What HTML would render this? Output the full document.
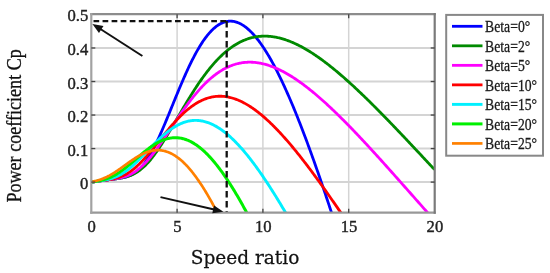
<!DOCTYPE html>
<html><head><meta charset="utf-8"><style>
html,body{margin:0;padding:0;background:#fff;}
svg{display:block;}
text{font-variant-ligatures:none;font-feature-settings:"liga" 0;}
.tk text{font-family:"Liberation Serif",serif;font-size:16.6px;fill:#222;stroke:#222;stroke-width:0.4px;}
.lg text{font-family:"Liberation Serif",serif;font-size:16.2px;fill:#1a1a1a;stroke:#1a1a1a;stroke-width:0.3px;}
</style></head><body>
<svg width="550" height="273" viewBox="0 0 550 273">
<defs><clipPath id="ax"><rect x="91.3" y="14.2" width="343.40" height="198.50"/></clipPath>

</defs>
<rect width="550" height="273" fill="#fff"/>
<g>
<g stroke="#d4d4d4" stroke-width="2"><line x1="177.10" y1="14.2" x2="177.10" y2="212.7" stroke-width="1.5"/><line x1="262.90" y1="14.2" x2="262.90" y2="212.7" stroke-width="1.5"/><line x1="348.70" y1="14.2" x2="348.70" y2="212.7" stroke-width="1.5"/><line x1="91.3" y1="182.10" x2="434.7" y2="182.10"/><line x1="91.3" y1="148.57" x2="434.7" y2="148.57"/><line x1="91.3" y1="115.04" x2="434.7" y2="115.04"/><line x1="91.3" y1="81.51" x2="434.7" y2="81.51"/><line x1="91.3" y1="47.98" x2="434.7" y2="47.98"/></g>
<g clip-path="url(#ax)"><path d="M91.30,182.10 L92.16,181.99 L93.02,181.87 L93.87,181.76 L94.73,181.64 L95.59,181.53 L96.45,181.42 L97.31,181.30 L98.16,181.19 L99.02,181.07 L99.88,180.96 L100.74,180.85 L101.60,180.73 L102.45,180.62 L103.31,180.50 L104.17,180.39 L105.03,180.28 L105.89,180.16 L106.74,180.05 L107.60,179.93 L108.46,179.82 L109.32,179.71 L110.18,179.59 L111.03,179.48 L111.89,179.36 L112.75,179.25 L113.61,179.13 L114.47,179.02 L115.32,178.90 L116.18,178.78 L117.04,178.66 L117.90,178.53 L118.76,178.41 L119.61,178.27 L120.47,178.13 L121.33,177.98 L122.19,177.82 L123.05,177.65 L123.90,177.47 L124.76,177.27 L125.62,177.05 L126.48,176.81 L127.34,176.55 L128.19,176.27 L129.05,175.95 L129.91,175.61 L130.77,175.23 L131.63,174.82 L132.48,174.38 L133.34,173.89 L134.20,173.36 L135.06,172.79 L135.92,172.17 L136.77,171.51 L137.63,170.80 L138.49,170.04 L139.35,169.24 L140.21,168.38 L141.06,167.47 L141.92,166.50 L142.78,165.49 L143.64,164.42 L144.50,163.30 L145.35,162.13 L146.21,160.90 L147.07,159.63 L147.93,158.30 L148.79,156.93 L149.64,155.50 L150.50,154.03 L151.36,152.51 L152.22,150.95 L153.08,149.34 L153.93,147.69 L154.79,146.00 L155.65,144.27 L156.51,142.51 L157.37,140.71 L158.22,138.87 L159.08,137.00 L159.94,135.11 L160.80,133.18 L161.66,131.23 L162.51,129.26 L163.37,127.26 L164.23,125.25 L165.09,123.21 L165.95,121.16 L166.80,119.10 L167.66,117.03 L168.52,114.94 L169.38,112.85 L170.24,110.75 L171.09,108.64 L171.95,106.54 L172.81,104.43 L173.67,102.33 L174.53,100.23 L175.38,98.13 L176.24,96.04 L177.10,93.96 L177.96,91.88 L178.82,89.82 L179.67,87.77 L180.53,85.74 L181.39,83.72 L182.25,81.72 L183.11,79.73 L183.96,77.77 L184.82,75.82 L185.68,73.90 L186.54,72.00 L187.40,70.13 L188.25,68.28 L189.11,66.46 L189.97,64.67 L190.83,62.90 L191.69,61.16 L192.54,59.46 L193.40,57.78 L194.26,56.14 L195.12,54.52 L195.98,52.95 L196.83,51.40 L197.69,49.89 L198.55,48.42 L199.41,46.98 L200.27,45.57 L201.12,44.20 L201.98,42.87 L202.84,41.58 L203.70,40.33 L204.56,39.11 L205.41,37.93 L206.27,36.79 L207.13,35.69 L207.99,34.63 L208.85,33.61 L209.70,32.63 L210.56,31.69 L211.42,30.79 L212.28,29.92 L213.14,29.10 L213.99,28.32 L214.85,27.58 L215.71,26.88 L216.57,26.22 L217.43,25.60 L218.28,25.03 L219.14,24.49 L220.00,23.99 L220.86,23.54 L221.72,23.12 L222.57,22.74 L223.43,22.41 L224.29,22.11 L225.15,21.86 L226.01,21.64 L226.86,21.46 L227.72,21.33 L228.58,21.23 L229.44,21.17 L230.30,21.15 L231.15,21.17 L232.01,21.23 L232.87,21.33 L233.73,21.46 L234.59,21.63 L235.44,21.84 L236.30,22.09 L237.16,22.37 L238.02,22.69 L238.88,23.05 L239.73,23.44 L240.59,23.87 L241.45,24.34 L242.31,24.84 L243.17,25.38 L244.02,25.95 L244.88,26.55 L245.74,27.19 L246.60,27.87 L247.46,28.58 L248.31,29.32 L249.17,30.09 L250.03,30.90 L250.89,31.74 L251.75,32.61 L252.60,33.51 L253.46,34.45 L254.32,35.41 L255.18,36.41 L256.04,37.44 L256.89,38.50 L257.75,39.58 L258.61,40.70 L259.47,41.85 L260.33,43.02 L261.18,44.23 L262.04,45.46 L262.90,46.72 L263.76,48.01 L264.62,49.33 L265.47,50.67 L266.33,52.04 L267.19,53.44 L268.05,54.86 L268.91,56.30 L269.76,57.78 L270.62,59.28 L271.48,60.80 L272.34,62.35 L273.20,63.92 L274.05,65.52 L274.91,67.14 L275.77,68.78 L276.63,70.44 L277.49,72.13 L278.34,73.84 L279.20,75.58 L280.06,77.33 L280.92,79.11 L281.78,80.91 L282.63,82.73 L283.49,84.57 L284.35,86.43 L285.21,88.31 L286.07,90.21 L286.92,92.12 L287.78,94.06 L288.64,96.02 L289.50,98.00 L290.36,99.99 L291.21,102.01 L292.07,104.04 L292.93,106.08 L293.79,108.15 L294.65,110.23 L295.50,112.33 L296.36,114.45 L297.22,116.58 L298.08,118.73 L298.94,120.90 L299.79,123.08 L300.65,125.27 L301.51,127.48 L302.37,129.71 L303.23,131.95 L304.08,134.21 L304.94,136.48 L305.80,138.76 L306.66,141.06 L307.52,143.37 L308.37,145.69 L309.23,148.03 L310.09,150.38 L310.95,152.74 L311.81,155.11 L312.66,157.50 L313.52,159.90 L314.38,162.31 L315.24,164.73 L316.10,167.17 L316.95,169.61 L317.81,172.07 L318.67,174.54 L319.53,177.01 L320.39,179.50 L321.24,182.00 L322.10,184.51 L322.96,187.03 L323.82,189.55 L324.68,192.09 L325.53,194.64 L326.39,197.19 L327.25,199.76 L328.11,202.33 L328.97,204.91 L329.82,207.50 L330.68,210.10 L331.54,212.71 L332.40,215.32 L333.26,217.95 L334.11,220.58 L334.97,223.22 L335.83,225.86 L336.69,228.51 L337.55,231.17 L338.40,233.84" stroke="#0000ff" stroke-width="2.8" fill="none" stroke-linejoin="round"/><path d="M91.30,182.10 L92.16,181.99 L93.02,181.87 L93.87,181.76 L94.73,181.64 L95.59,181.53 L96.45,181.42 L97.31,181.30 L98.16,181.19 L99.02,181.07 L99.88,180.96 L100.74,180.85 L101.60,180.73 L102.45,180.62 L103.31,180.50 L104.17,180.39 L105.03,180.28 L105.89,180.16 L106.74,180.05 L107.60,179.93 L108.46,179.82 L109.32,179.71 L110.18,179.59 L111.03,179.48 L111.89,179.36 L112.75,179.25 L113.61,179.13 L114.47,179.01 L115.32,178.89 L116.18,178.77 L117.04,178.64 L117.90,178.51 L118.76,178.38 L119.61,178.24 L120.47,178.09 L121.33,177.94 L122.19,177.77 L123.05,177.60 L123.90,177.42 L124.76,177.22 L125.62,177.00 L126.48,176.78 L127.34,176.53 L128.19,176.26 L129.05,175.98 L129.91,175.67 L130.77,175.34 L131.63,174.99 L132.48,174.61 L133.34,174.21 L134.20,173.78 L135.06,173.32 L135.92,172.83 L136.77,172.31 L137.63,171.76 L138.49,171.18 L139.35,170.57 L140.21,169.93 L141.06,169.25 L141.92,168.54 L142.78,167.80 L143.64,167.03 L144.50,166.23 L145.35,165.39 L146.21,164.53 L147.07,163.63 L147.93,162.70 L148.79,161.74 L149.64,160.75 L150.50,159.73 L151.36,158.68 L152.22,157.61 L153.08,156.50 L153.93,155.38 L154.79,154.22 L155.65,153.04 L156.51,151.84 L157.37,150.62 L158.22,149.37 L159.08,148.10 L159.94,146.82 L160.80,145.51 L161.66,144.19 L162.51,142.85 L163.37,141.49 L164.23,140.12 L165.09,138.74 L165.95,137.35 L166.80,135.94 L167.66,134.52 L168.52,133.09 L169.38,131.65 L170.24,130.21 L171.09,128.76 L171.95,127.30 L172.81,125.84 L173.67,124.38 L174.53,122.91 L175.38,121.44 L176.24,119.97 L177.10,118.49 L177.96,117.02 L178.82,115.55 L179.67,114.08 L180.53,112.62 L181.39,111.15 L182.25,109.70 L183.11,108.24 L183.96,106.80 L184.82,105.35 L185.68,103.92 L186.54,102.49 L187.40,101.07 L188.25,99.66 L189.11,98.26 L189.97,96.87 L190.83,95.49 L191.69,94.12 L192.54,92.76 L193.40,91.41 L194.26,90.07 L195.12,88.75 L195.98,87.44 L196.83,86.14 L197.69,84.86 L198.55,83.58 L199.41,82.33 L200.27,81.09 L201.12,79.86 L201.98,78.65 L202.84,77.45 L203.70,76.27 L204.56,75.11 L205.41,73.96 L206.27,72.83 L207.13,71.71 L207.99,70.61 L208.85,69.53 L209.70,68.46 L210.56,67.41 L211.42,66.38 L212.28,65.37 L213.14,64.37 L213.99,63.39 L214.85,62.43 L215.71,61.49 L216.57,60.56 L217.43,59.65 L218.28,58.76 L219.14,57.89 L220.00,57.03 L220.86,56.19 L221.72,55.38 L222.57,54.57 L223.43,53.79 L224.29,53.03 L225.15,52.28 L226.01,51.55 L226.86,50.84 L227.72,50.15 L228.58,49.47 L229.44,48.81 L230.30,48.17 L231.15,47.55 L232.01,46.94 L232.87,46.36 L233.73,45.79 L234.59,45.23 L235.44,44.70 L236.30,44.18 L237.16,43.68 L238.02,43.20 L238.88,42.73 L239.73,42.28 L240.59,41.85 L241.45,41.43 L242.31,41.03 L243.17,40.65 L244.02,40.29 L244.88,39.94 L245.74,39.60 L246.60,39.28 L247.46,38.98 L248.31,38.70 L249.17,38.43 L250.03,38.17 L250.89,37.93 L251.75,37.71 L252.60,37.50 L253.46,37.31 L254.32,37.13 L255.18,36.97 L256.04,36.82 L256.89,36.69 L257.75,36.57 L258.61,36.47 L259.47,36.38 L260.33,36.30 L261.18,36.24 L262.04,36.19 L262.90,36.16 L263.76,36.14 L264.62,36.13 L265.47,36.14 L266.33,36.15 L267.19,36.19 L268.05,36.23 L268.91,36.29 L269.76,36.36 L270.62,36.45 L271.48,36.54 L272.34,36.65 L273.20,36.77 L274.05,36.91 L274.91,37.05 L275.77,37.21 L276.63,37.38 L277.49,37.56 L278.34,37.75 L279.20,37.95 L280.06,38.17 L280.92,38.39 L281.78,38.63 L282.63,38.88 L283.49,39.13 L284.35,39.40 L285.21,39.68 L286.07,39.97 L286.92,40.27 L287.78,40.58 L288.64,40.90 L289.50,41.23 L290.36,41.57 L291.21,41.92 L292.07,42.28 L292.93,42.64 L293.79,43.02 L294.65,43.41 L295.50,43.80 L296.36,44.21 L297.22,44.62 L298.08,45.04 L298.94,45.47 L299.79,45.91 L300.65,46.36 L301.51,46.82 L302.37,47.28 L303.23,47.75 L304.08,48.23 L304.94,48.72 L305.80,49.22 L306.66,49.72 L307.52,50.23 L308.37,50.75 L309.23,51.27 L310.09,51.81 L310.95,52.35 L311.81,52.89 L312.66,53.45 L313.52,54.01 L314.38,54.58 L315.24,55.15 L316.10,55.73 L316.95,56.32 L317.81,56.92 L318.67,57.52 L319.53,58.12 L320.39,58.74 L321.24,59.35 L322.10,59.98 L322.96,60.61 L323.82,61.25 L324.68,61.89 L325.53,62.54 L326.39,63.19 L327.25,63.85 L328.11,64.52 L328.97,65.19 L329.82,65.86 L330.68,66.54 L331.54,67.23 L332.40,67.92 L333.26,68.61 L334.11,69.31 L334.97,70.02 L335.83,70.73 L336.69,71.44 L337.55,72.16 L338.40,72.88 L339.26,73.61 L340.12,74.34 L340.98,75.08 L341.84,75.82 L342.69,76.56 L343.55,77.31 L344.41,78.07 L345.27,78.82 L346.13,79.58 L346.98,80.35 L347.84,81.12 L348.70,81.89 L349.56,82.66 L350.42,83.44 L351.27,84.23 L352.13,85.01 L352.99,85.80 L353.85,86.59 L354.71,87.39 L355.56,88.19 L356.42,88.99 L357.28,89.80 L358.14,90.61 L359.00,91.42 L359.85,92.23 L360.71,93.05 L361.57,93.87 L362.43,94.69 L363.29,95.52 L364.14,96.35 L365.00,97.18 L365.86,98.01 L366.72,98.85 L367.58,99.69 L368.43,100.53 L369.29,101.37 L370.15,102.22 L371.01,103.07 L371.87,103.92 L372.72,104.77 L373.58,105.63 L374.44,106.48 L375.30,107.34 L376.16,108.20 L377.01,109.07 L377.87,109.93 L378.73,110.80 L379.59,111.67 L380.45,112.54 L381.30,113.41 L382.16,114.28 L383.02,115.16 L383.88,116.04 L384.74,116.91 L385.59,117.79 L386.45,118.68 L387.31,119.56 L388.17,120.45 L389.03,121.33 L389.88,122.22 L390.74,123.11 L391.60,124.00 L392.46,124.89 L393.32,125.78 L394.17,126.68 L395.03,127.57 L395.89,128.47 L396.75,129.37 L397.61,130.27 L398.46,131.17 L399.32,132.07 L400.18,132.97 L401.04,133.87 L401.90,134.77 L402.75,135.68 L403.61,136.58 L404.47,137.49 L405.33,138.40 L406.19,139.31 L407.04,140.21 L407.90,141.12 L408.76,142.03 L409.62,142.94 L410.48,143.86 L411.33,144.77 L412.19,145.68 L413.05,146.59 L413.91,147.51 L414.77,148.42 L415.62,149.34 L416.48,150.25 L417.34,151.17 L418.20,152.08 L419.06,153.00 L419.91,153.92 L420.77,154.83 L421.63,155.75 L422.49,156.67 L423.35,157.59 L424.20,158.50 L425.06,159.42 L425.92,160.34 L426.78,161.26 L427.64,162.18 L428.49,163.10 L429.35,164.02 L430.21,164.94 L431.07,165.86 L431.93,166.78 L432.78,167.70 L433.64,168.62 L434.50,169.54" stroke="#008a00" stroke-width="2.8" fill="none" stroke-linejoin="round"/><path d="M91.30,182.10 L92.16,181.99 L93.02,181.87 L93.87,181.76 L94.73,181.64 L95.59,181.53 L96.45,181.42 L97.31,181.30 L98.16,181.19 L99.02,181.07 L99.88,180.96 L100.74,180.85 L101.60,180.73 L102.45,180.62 L103.31,180.50 L104.17,180.39 L105.03,180.28 L105.89,180.16 L106.74,180.05 L107.60,179.93 L108.46,179.82 L109.32,179.70 L110.18,179.58 L111.03,179.46 L111.89,179.34 L112.75,179.22 L113.61,179.09 L114.47,178.96 L115.32,178.82 L116.18,178.68 L117.04,178.53 L117.90,178.37 L118.76,178.21 L119.61,178.03 L120.47,177.84 L121.33,177.64 L122.19,177.43 L123.05,177.19 L123.90,176.95 L124.76,176.68 L125.62,176.40 L126.48,176.09 L127.34,175.77 L128.19,175.42 L129.05,175.05 L129.91,174.65 L130.77,174.23 L131.63,173.78 L132.48,173.31 L133.34,172.81 L134.20,172.28 L135.06,171.72 L135.92,171.14 L136.77,170.52 L137.63,169.88 L138.49,169.21 L139.35,168.51 L140.21,167.79 L141.06,167.03 L141.92,166.25 L142.78,165.44 L143.64,164.60 L144.50,163.73 L145.35,162.84 L146.21,161.93 L147.07,160.99 L147.93,160.02 L148.79,159.03 L149.64,158.02 L150.50,156.99 L151.36,155.94 L152.22,154.86 L153.08,153.77 L153.93,152.66 L154.79,151.53 L155.65,150.38 L156.51,149.22 L157.37,148.05 L158.22,146.86 L159.08,145.65 L159.94,144.44 L160.80,143.21 L161.66,141.98 L162.51,140.74 L163.37,139.48 L164.23,138.23 L165.09,136.96 L165.95,135.69 L166.80,134.42 L167.66,133.14 L168.52,131.86 L169.38,130.57 L170.24,129.29 L171.09,128.00 L171.95,126.72 L172.81,125.44 L173.67,124.16 L174.53,122.88 L175.38,121.61 L176.24,120.34 L177.10,119.07 L177.96,117.81 L178.82,116.56 L179.67,115.31 L180.53,114.07 L181.39,112.84 L182.25,111.62 L183.11,110.41 L183.96,109.20 L184.82,108.01 L185.68,106.82 L186.54,105.65 L187.40,104.49 L188.25,103.34 L189.11,102.20 L189.97,101.07 L190.83,99.96 L191.69,98.86 L192.54,97.78 L193.40,96.70 L194.26,95.65 L195.12,94.60 L195.98,93.57 L196.83,92.56 L197.69,91.56 L198.55,90.58 L199.41,89.61 L200.27,88.66 L201.12,87.72 L201.98,86.81 L202.84,85.90 L203.70,85.02 L204.56,84.14 L205.41,83.29 L206.27,82.45 L207.13,81.64 L207.99,80.83 L208.85,80.05 L209.70,79.28 L210.56,78.53 L211.42,77.79 L212.28,77.08 L213.14,76.38 L213.99,75.69 L214.85,75.03 L215.71,74.38 L216.57,73.75 L217.43,73.14 L218.28,72.54 L219.14,71.97 L220.00,71.41 L220.86,70.86 L221.72,70.34 L222.57,69.83 L223.43,69.34 L224.29,68.86 L225.15,68.41 L226.01,67.97 L226.86,67.54 L227.72,67.14 L228.58,66.75 L229.44,66.37 L230.30,66.02 L231.15,65.68 L232.01,65.35 L232.87,65.05 L233.73,64.76 L234.59,64.48 L235.44,64.22 L236.30,63.98 L237.16,63.75 L238.02,63.54 L238.88,63.35 L239.73,63.17 L240.59,63.01 L241.45,62.86 L242.31,62.72 L243.17,62.61 L244.02,62.50 L244.88,62.42 L245.74,62.34 L246.60,62.28 L247.46,62.24 L248.31,62.21 L249.17,62.19 L250.03,62.19 L250.89,62.20 L251.75,62.23 L252.60,62.27 L253.46,62.33 L254.32,62.39 L255.18,62.47 L256.04,62.57 L256.89,62.67 L257.75,62.79 L258.61,62.93 L259.47,63.07 L260.33,63.23 L261.18,63.40 L262.04,63.59 L262.90,63.78 L263.76,63.99 L264.62,64.21 L265.47,64.44 L266.33,64.68 L267.19,64.94 L268.05,65.20 L268.91,65.48 L269.76,65.77 L270.62,66.07 L271.48,66.38 L272.34,66.70 L273.20,67.03 L274.05,67.37 L274.91,67.73 L275.77,68.09 L276.63,68.47 L277.49,68.85 L278.34,69.24 L279.20,69.65 L280.06,70.06 L280.92,70.48 L281.78,70.91 L282.63,71.36 L283.49,71.81 L284.35,72.27 L285.21,72.74 L286.07,73.22 L286.92,73.70 L287.78,74.20 L288.64,74.70 L289.50,75.21 L290.36,75.74 L291.21,76.26 L292.07,76.80 L292.93,77.35 L293.79,77.90 L294.65,78.46 L295.50,79.03 L296.36,79.61 L297.22,80.19 L298.08,80.78 L298.94,81.38 L299.79,81.99 L300.65,82.60 L301.51,83.22 L302.37,83.85 L303.23,84.48 L304.08,85.12 L304.94,85.77 L305.80,86.42 L306.66,87.08 L307.52,87.75 L308.37,88.42 L309.23,89.10 L310.09,89.78 L310.95,90.47 L311.81,91.17 L312.66,91.87 L313.52,92.58 L314.38,93.29 L315.24,94.01 L316.10,94.74 L316.95,95.47 L317.81,96.20 L318.67,96.94 L319.53,97.69 L320.39,98.44 L321.24,99.20 L322.10,99.96 L322.96,100.72 L323.82,101.49 L324.68,102.27 L325.53,103.05 L326.39,103.83 L327.25,104.62 L328.11,105.41 L328.97,106.21 L329.82,107.01 L330.68,107.81 L331.54,108.62 L332.40,109.44 L333.26,110.25 L334.11,111.08 L334.97,111.90 L335.83,112.73 L336.69,113.56 L337.55,114.40 L338.40,115.24 L339.26,116.08 L340.12,116.93 L340.98,117.78 L341.84,118.63 L342.69,119.49 L343.55,120.35 L344.41,121.21 L345.27,122.07 L346.13,122.94 L346.98,123.82 L347.84,124.69 L348.70,125.57 L349.56,126.45 L350.42,127.33 L351.27,128.22 L352.13,129.10 L352.99,130.00 L353.85,130.89 L354.71,131.78 L355.56,132.68 L356.42,133.58 L357.28,134.49 L358.14,135.39 L359.00,136.30 L359.85,137.21 L360.71,138.12 L361.57,139.03 L362.43,139.95 L363.29,140.87 L364.14,141.79 L365.00,142.71 L365.86,143.63 L366.72,144.56 L367.58,145.49 L368.43,146.41 L369.29,147.34 L370.15,148.28 L371.01,149.21 L371.87,150.15 L372.72,151.08 L373.58,152.02 L374.44,152.96 L375.30,153.90 L376.16,154.84 L377.01,155.79 L377.87,156.73 L378.73,157.68 L379.59,158.63 L380.45,159.57 L381.30,160.52 L382.16,161.48 L383.02,162.43 L383.88,163.38 L384.74,164.33 L385.59,165.29 L386.45,166.25 L387.31,167.20 L388.17,168.16 L389.03,169.12 L389.88,170.08 L390.74,171.04 L391.60,172.00 L392.46,172.96 L393.32,173.92 L394.17,174.89 L395.03,175.85 L395.89,176.81 L396.75,177.78 L397.61,178.74 L398.46,179.71 L399.32,180.68 L400.18,181.64 L401.04,182.61 L401.90,183.58 L402.75,184.55 L403.61,185.51 L404.47,186.48 L405.33,187.45 L406.19,188.42 L407.04,189.39 L407.90,190.36 L408.76,191.33 L409.62,192.30 L410.48,193.27 L411.33,194.24 L412.19,195.21 L413.05,196.18 L413.91,197.16 L414.77,198.13 L415.62,199.10 L416.48,200.07 L417.34,201.04 L418.20,202.01 L419.06,202.98 L419.91,203.95 L420.77,204.92 L421.63,205.89 L422.49,206.86 L423.35,207.84 L424.20,208.81 L425.06,209.78 L425.92,210.75 L426.78,211.72 L427.64,212.68 L428.49,213.65 L429.35,214.62 L430.21,215.59 L431.07,216.56 L431.93,217.53 L432.78,218.50 L433.64,219.46 L434.50,220.43" stroke="#ff00ff" stroke-width="2.8" fill="none" stroke-linejoin="round"/><path d="M91.30,182.10 L92.16,181.99 L93.02,181.87 L93.87,181.76 L94.73,181.64 L95.59,181.53 L96.45,181.42 L97.31,181.30 L98.16,181.19 L99.02,181.07 L99.88,180.96 L100.74,180.84 L101.60,180.73 L102.45,180.61 L103.31,180.49 L104.17,180.38 L105.03,180.25 L105.89,180.13 L106.74,180.00 L107.60,179.87 L108.46,179.74 L109.32,179.60 L110.18,179.45 L111.03,179.29 L111.89,179.13 L112.75,178.96 L113.61,178.77 L114.47,178.57 L115.32,178.36 L116.18,178.14 L117.04,177.90 L117.90,177.64 L118.76,177.37 L119.61,177.08 L120.47,176.76 L121.33,176.43 L122.19,176.07 L123.05,175.70 L123.90,175.30 L124.76,174.87 L125.62,174.43 L126.48,173.95 L127.34,173.46 L128.19,172.93 L129.05,172.39 L129.91,171.81 L130.77,171.22 L131.63,170.59 L132.48,169.94 L133.34,169.27 L134.20,168.57 L135.06,167.85 L135.92,167.11 L136.77,166.34 L137.63,165.55 L138.49,164.74 L139.35,163.91 L140.21,163.05 L141.06,162.18 L141.92,161.29 L142.78,160.38 L143.64,159.45 L144.50,158.51 L145.35,157.55 L146.21,156.58 L147.07,155.59 L147.93,154.60 L148.79,153.58 L149.64,152.56 L150.50,151.53 L151.36,150.49 L152.22,149.45 L153.08,148.39 L153.93,147.33 L154.79,146.27 L155.65,145.20 L156.51,144.13 L157.37,143.06 L158.22,141.98 L159.08,140.90 L159.94,139.83 L160.80,138.76 L161.66,137.68 L162.51,136.62 L163.37,135.55 L164.23,134.49 L165.09,133.44 L165.95,132.39 L166.80,131.35 L167.66,130.31 L168.52,129.28 L169.38,128.27 L170.24,127.26 L171.09,126.26 L171.95,125.27 L172.81,124.29 L173.67,123.32 L174.53,122.37 L175.38,121.43 L176.24,120.50 L177.10,119.59 L177.96,118.69 L178.82,117.80 L179.67,116.93 L180.53,116.07 L181.39,115.23 L182.25,114.40 L183.11,113.59 L183.96,112.80 L184.82,112.02 L185.68,111.27 L186.54,110.52 L187.40,109.80 L188.25,109.09 L189.11,108.40 L189.97,107.73 L190.83,107.08 L191.69,106.44 L192.54,105.83 L193.40,105.23 L194.26,104.65 L195.12,104.09 L195.98,103.55 L196.83,103.03 L197.69,102.53 L198.55,102.05 L199.41,101.58 L200.27,101.14 L201.12,100.71 L201.98,100.31 L202.84,99.92 L203.70,99.55 L204.56,99.21 L205.41,98.88 L206.27,98.57 L207.13,98.28 L207.99,98.01 L208.85,97.76 L209.70,97.53 L210.56,97.31 L211.42,97.12 L212.28,96.95 L213.14,96.79 L213.99,96.66 L214.85,96.54 L215.71,96.44 L216.57,96.36 L217.43,96.30 L218.28,96.25 L219.14,96.23 L220.00,96.22 L220.86,96.23 L221.72,96.26 L222.57,96.31 L223.43,96.38 L224.29,96.46 L225.15,96.56 L226.01,96.68 L226.86,96.81 L227.72,96.96 L228.58,97.13 L229.44,97.32 L230.30,97.52 L231.15,97.74 L232.01,97.98 L232.87,98.23 L233.73,98.50 L234.59,98.78 L235.44,99.08 L236.30,99.40 L237.16,99.73 L238.02,100.07 L238.88,100.43 L239.73,100.81 L240.59,101.20 L241.45,101.61 L242.31,102.03 L243.17,102.47 L244.02,102.92 L244.88,103.38 L245.74,103.86 L246.60,104.35 L247.46,104.86 L248.31,105.38 L249.17,105.91 L250.03,106.46 L250.89,107.02 L251.75,107.59 L252.60,108.18 L253.46,108.77 L254.32,109.39 L255.18,110.01 L256.04,110.64 L256.89,111.29 L257.75,111.95 L258.61,112.62 L259.47,113.30 L260.33,114.00 L261.18,114.70 L262.04,115.42 L262.90,116.15 L263.76,116.89 L264.62,117.63 L265.47,118.39 L266.33,119.17 L267.19,119.95 L268.05,120.74 L268.91,121.54 L269.76,122.35 L270.62,123.17 L271.48,124.00 L272.34,124.84 L273.20,125.69 L274.05,126.55 L274.91,127.42 L275.77,128.29 L276.63,129.18 L277.49,130.07 L278.34,130.97 L279.20,131.89 L280.06,132.81 L280.92,133.73 L281.78,134.67 L282.63,135.61 L283.49,136.57 L284.35,137.53 L285.21,138.49 L286.07,139.47 L286.92,140.45 L287.78,141.44 L288.64,142.44 L289.50,143.44 L290.36,144.45 L291.21,145.47 L292.07,146.49 L292.93,147.52 L293.79,148.56 L294.65,149.60 L295.50,150.65 L296.36,151.71 L297.22,152.77 L298.08,153.84 L298.94,154.91 L299.79,155.99 L300.65,157.08 L301.51,158.17 L302.37,159.27 L303.23,160.37 L304.08,161.48 L304.94,162.59 L305.80,163.71 L306.66,164.83 L307.52,165.96 L308.37,167.09 L309.23,168.23 L310.09,169.37 L310.95,170.52 L311.81,171.67 L312.66,172.82 L313.52,173.98 L314.38,175.15 L315.24,176.31 L316.10,177.49 L316.95,178.66 L317.81,179.84 L318.67,181.03 L319.53,182.21 L320.39,183.40 L321.24,184.60 L322.10,185.80 L322.96,187.00 L323.82,188.20 L324.68,189.41 L325.53,190.62 L326.39,191.84 L327.25,193.06 L328.11,194.28 L328.97,195.50 L329.82,196.73 L330.68,197.96 L331.54,199.19 L332.40,200.43 L333.26,201.66 L334.11,202.90 L334.97,204.15 L335.83,205.39 L336.69,206.64 L337.55,207.89 L338.40,209.14 L339.26,210.40 L340.12,211.65 L340.98,212.91 L341.84,214.17 L342.69,215.43 L343.55,216.70 L344.41,217.96 L345.27,219.23 L346.13,220.50 L346.98,221.77 L347.84,223.05 L348.70,224.32 L349.56,225.60 L350.42,226.88 L351.27,228.16 L352.13,229.44 L352.99,230.72 L353.85,232.00 L354.71,233.29" stroke="#ff0000" stroke-width="2.8" fill="none" stroke-linejoin="round"/><path d="M91.30,182.10 L92.16,181.99 L93.02,181.87 L93.87,181.76 L94.73,181.64 L95.59,181.52 L96.45,181.41 L97.31,181.29 L98.16,181.17 L99.02,181.04 L99.88,180.92 L100.74,180.79 L101.60,180.65 L102.45,180.51 L103.31,180.37 L104.17,180.21 L105.03,180.05 L105.89,179.88 L106.74,179.70 L107.60,179.51 L108.46,179.30 L109.32,179.08 L110.18,178.85 L111.03,178.60 L111.89,178.34 L112.75,178.05 L113.61,177.75 L114.47,177.43 L115.32,177.10 L116.18,176.74 L117.04,176.36 L117.90,175.95 L118.76,175.53 L119.61,175.09 L120.47,174.62 L121.33,174.13 L122.19,173.62 L123.05,173.08 L123.90,172.53 L124.76,171.95 L125.62,171.35 L126.48,170.73 L127.34,170.09 L128.19,169.43 L129.05,168.75 L129.91,168.05 L130.77,167.33 L131.63,166.59 L132.48,165.84 L133.34,165.07 L134.20,164.29 L135.06,163.49 L135.92,162.68 L136.77,161.86 L137.63,161.02 L138.49,160.18 L139.35,159.32 L140.21,158.46 L141.06,157.59 L141.92,156.71 L142.78,155.82 L143.64,154.93 L144.50,154.04 L145.35,153.15 L146.21,152.25 L147.07,151.35 L147.93,150.46 L148.79,149.56 L149.64,148.66 L150.50,147.77 L151.36,146.88 L152.22,146.00 L153.08,145.12 L153.93,144.25 L154.79,143.39 L155.65,142.53 L156.51,141.68 L157.37,140.84 L158.22,140.01 L159.08,139.20 L159.94,138.39 L160.80,137.59 L161.66,136.81 L162.51,136.04 L163.37,135.29 L164.23,134.55 L165.09,133.82 L165.95,133.11 L166.80,132.41 L167.66,131.74 L168.52,131.07 L169.38,130.43 L170.24,129.80 L171.09,129.19 L171.95,128.60 L172.81,128.03 L173.67,127.48 L174.53,126.95 L175.38,126.43 L176.24,125.94 L177.10,125.46 L177.96,125.01 L178.82,124.58 L179.67,124.16 L180.53,123.77 L181.39,123.40 L182.25,123.05 L183.11,122.72 L183.96,122.41 L184.82,122.13 L185.68,121.86 L186.54,121.62 L187.40,121.40 L188.25,121.20 L189.11,121.02 L189.97,120.87 L190.83,120.74 L191.69,120.62 L192.54,120.53 L193.40,120.47 L194.26,120.42 L195.12,120.40 L195.98,120.39 L196.83,120.41 L197.69,120.45 L198.55,120.51 L199.41,120.60 L200.27,120.70 L201.12,120.83 L201.98,120.98 L202.84,121.15 L203.70,121.34 L204.56,121.55 L205.41,121.78 L206.27,122.03 L207.13,122.31 L207.99,122.60 L208.85,122.91 L209.70,123.25 L210.56,123.60 L211.42,123.98 L212.28,124.37 L213.14,124.78 L213.99,125.22 L214.85,125.67 L215.71,126.14 L216.57,126.63 L217.43,127.14 L218.28,127.67 L219.14,128.21 L220.00,128.78 L220.86,129.36 L221.72,129.96 L222.57,130.58 L223.43,131.22 L224.29,131.87 L225.15,132.54 L226.01,133.23 L226.86,133.93 L227.72,134.65 L228.58,135.39 L229.44,136.15 L230.30,136.92 L231.15,137.70 L232.01,138.51 L232.87,139.33 L233.73,140.16 L234.59,141.01 L235.44,141.87 L236.30,142.75 L237.16,143.64 L238.02,144.55 L238.88,145.48 L239.73,146.41 L240.59,147.36 L241.45,148.33 L242.31,149.31 L243.17,150.30 L244.02,151.30 L244.88,152.32 L245.74,153.35 L246.60,154.40 L247.46,155.46 L248.31,156.52 L249.17,157.61 L250.03,158.70 L250.89,159.81 L251.75,160.92 L252.60,162.05 L253.46,163.19 L254.32,164.34 L255.18,165.51 L256.04,166.68 L256.89,167.86 L257.75,169.06 L258.61,170.27 L259.47,171.48 L260.33,172.71 L261.18,173.94 L262.04,175.19 L262.90,176.44 L263.76,177.71 L264.62,178.98 L265.47,180.27 L266.33,181.56 L267.19,182.86 L268.05,184.17 L268.91,185.49 L269.76,186.82 L270.62,188.16 L271.48,189.50 L272.34,190.85 L273.20,192.21 L274.05,193.58 L274.91,194.96 L275.77,196.34 L276.63,197.73 L277.49,199.13 L278.34,200.54 L279.20,201.95 L280.06,203.37 L280.92,204.79 L281.78,206.23 L282.63,207.67 L283.49,209.11 L284.35,210.56 L285.21,212.02 L286.07,213.48 L286.92,214.95 L287.78,216.43 L288.64,217.91 L289.50,219.40 L290.36,220.89 L291.21,222.39 L292.07,223.89 L292.93,225.40 L293.79,226.92 L294.65,228.43 L295.50,229.96 L296.36,231.49 L297.22,233.02" stroke="#00f0ff" stroke-width="2.9" fill="none" stroke-linejoin="round"/><path d="M91.30,182.08 L92.16,181.96 L93.02,181.83 L93.87,181.70 L94.73,181.57 L95.59,181.43 L96.45,181.28 L97.31,181.13 L98.16,180.97 L99.02,180.80 L99.88,180.63 L100.74,180.44 L101.60,180.24 L102.45,180.03 L103.31,179.80 L104.17,179.56 L105.03,179.30 L105.89,179.03 L106.74,178.74 L107.60,178.44 L108.46,178.12 L109.32,177.77 L110.18,177.41 L111.03,177.03 L111.89,176.63 L112.75,176.22 L113.61,175.78 L114.47,175.32 L115.32,174.85 L116.18,174.35 L117.04,173.84 L117.90,173.30 L118.76,172.75 L119.61,172.18 L120.47,171.60 L121.33,171.00 L122.19,170.38 L123.05,169.75 L123.90,169.10 L124.76,168.44 L125.62,167.77 L126.48,167.09 L127.34,166.39 L128.19,165.69 L129.05,164.98 L129.91,164.25 L130.77,163.53 L131.63,162.79 L132.48,162.06 L133.34,161.31 L134.20,160.57 L135.06,159.82 L135.92,159.08 L136.77,158.33 L137.63,157.58 L138.49,156.84 L139.35,156.10 L140.21,155.36 L141.06,154.63 L141.92,153.91 L142.78,153.19 L143.64,152.48 L144.50,151.78 L145.35,151.09 L146.21,150.41 L147.07,149.74 L147.93,149.08 L148.79,148.43 L149.64,147.80 L150.50,147.18 L151.36,146.58 L152.22,145.99 L153.08,145.42 L153.93,144.87 L154.79,144.33 L155.65,143.81 L156.51,143.31 L157.37,142.82 L158.22,142.36 L159.08,141.92 L159.94,141.49 L160.80,141.09 L161.66,140.71 L162.51,140.35 L163.37,140.01 L164.23,139.69 L165.09,139.40 L165.95,139.12 L166.80,138.88 L167.66,138.65 L168.52,138.45 L169.38,138.27 L170.24,138.11 L171.09,137.98 L171.95,137.87 L172.81,137.79 L173.67,137.73 L174.53,137.69 L175.38,137.68 L176.24,137.70 L177.10,137.74 L177.96,137.80 L178.82,137.89 L179.67,138.00 L180.53,138.14 L181.39,138.30 L182.25,138.48 L183.11,138.69 L183.96,138.93 L184.82,139.19 L185.68,139.47 L186.54,139.78 L187.40,140.12 L188.25,140.47 L189.11,140.85 L189.97,141.26 L190.83,141.69 L191.69,142.14 L192.54,142.62 L193.40,143.12 L194.26,143.64 L195.12,144.19 L195.98,144.76 L196.83,145.35 L197.69,145.97 L198.55,146.61 L199.41,147.27 L200.27,147.95 L201.12,148.65 L201.98,149.38 L202.84,150.13 L203.70,150.90 L204.56,151.69 L205.41,152.51 L206.27,153.34 L207.13,154.19 L207.99,155.07 L208.85,155.97 L209.70,156.88 L210.56,157.82 L211.42,158.77 L212.28,159.75 L213.14,160.74 L213.99,161.76 L214.85,162.79 L215.71,163.84 L216.57,164.91 L217.43,166.00 L218.28,167.11 L219.14,168.23 L220.00,169.37 L220.86,170.53 L221.72,171.71 L222.57,172.90 L223.43,174.11 L224.29,175.34 L225.15,176.59 L226.01,177.85 L226.86,179.12 L227.72,180.41 L228.58,181.72 L229.44,183.04 L230.30,184.38 L231.15,185.73 L232.01,187.10 L232.87,188.48 L233.73,189.88 L234.59,191.29 L235.44,192.71 L236.30,194.15 L237.16,195.60 L238.02,197.07 L238.88,198.55 L239.73,200.04 L240.59,201.54 L241.45,203.06 L242.31,204.59 L243.17,206.13 L244.02,207.68 L244.88,209.25 L245.74,210.82 L246.60,212.41 L247.46,214.01 L248.31,215.62 L249.17,217.24 L250.03,218.87 L250.89,220.51 L251.75,222.16 L252.60,223.82 L253.46,225.50 L254.32,227.18 L255.18,228.87 L256.04,230.57 L256.89,232.28 L257.75,234.00" stroke="#00f000" stroke-width="3.0" fill="none" stroke-linejoin="round"/><path d="M91.30,181.89 L92.16,181.73 L93.02,181.55 L93.87,181.37 L94.73,181.18 L95.59,180.97 L96.45,180.75 L97.31,180.52 L98.16,180.27 L99.02,180.01 L99.88,179.73 L100.74,179.44 L101.60,179.14 L102.45,178.81 L103.31,178.47 L104.17,178.11 L105.03,177.74 L105.89,177.35 L106.74,176.94 L107.60,176.52 L108.46,176.07 L109.32,175.62 L110.18,175.14 L111.03,174.66 L111.89,174.16 L112.75,173.64 L113.61,173.11 L114.47,172.57 L115.32,172.01 L116.18,171.45 L117.04,170.87 L117.90,170.29 L118.76,169.70 L119.61,169.10 L120.47,168.49 L121.33,167.88 L122.19,167.27 L123.05,166.65 L123.90,166.03 L124.76,165.41 L125.62,164.79 L126.48,164.17 L127.34,163.55 L128.19,162.94 L129.05,162.33 L129.91,161.72 L130.77,161.12 L131.63,160.53 L132.48,159.95 L133.34,159.37 L134.20,158.81 L135.06,158.26 L135.92,157.72 L136.77,157.19 L137.63,156.67 L138.49,156.17 L139.35,155.69 L140.21,155.22 L141.06,154.77 L141.92,154.33 L142.78,153.92 L143.64,153.52 L144.50,153.14 L145.35,152.79 L146.21,152.45 L147.07,152.14 L147.93,151.84 L148.79,151.57 L149.64,151.32 L150.50,151.10 L151.36,150.90 L152.22,150.72 L153.08,150.57 L153.93,150.44 L154.79,150.34 L155.65,150.26 L156.51,150.21 L157.37,150.19 L158.22,150.19 L159.08,150.22 L159.94,150.27 L160.80,150.35 L161.66,150.46 L162.51,150.60 L163.37,150.76 L164.23,150.95 L165.09,151.17 L165.95,151.41 L166.80,151.69 L167.66,151.99 L168.52,152.32 L169.38,152.67 L170.24,153.06 L171.09,153.47 L171.95,153.91 L172.81,154.38 L173.67,154.87 L174.53,155.39 L175.38,155.94 L176.24,156.52 L177.10,157.12 L177.96,157.75 L178.82,158.41 L179.67,159.10 L180.53,159.81 L181.39,160.55 L182.25,161.31 L183.11,162.11 L183.96,162.92 L184.82,163.77 L185.68,164.64 L186.54,165.53 L187.40,166.45 L188.25,167.40 L189.11,168.37 L189.97,169.37 L190.83,170.39 L191.69,171.43 L192.54,172.50 L193.40,173.59 L194.26,174.71 L195.12,175.85 L195.98,177.01 L196.83,178.20 L197.69,179.41 L198.55,180.64 L199.41,181.90 L200.27,183.17 L201.12,184.47 L201.98,185.79 L202.84,187.13 L203.70,188.50 L204.56,189.88 L205.41,191.28 L206.27,192.71 L207.13,194.16 L207.99,195.62 L208.85,197.10 L209.70,198.61 L210.56,200.13 L211.42,201.67 L212.28,203.24 L213.14,204.82 L213.99,206.41 L214.85,208.03 L215.71,209.66 L216.57,211.31 L217.43,212.98 L218.28,214.67 L219.14,216.37 L220.00,218.09 L220.86,219.82 L221.72,221.57 L222.57,223.34 L223.43,225.12 L224.29,226.92 L225.15,228.73 L226.01,230.56 L226.86,232.40 L227.72,234.26" stroke="#ff8000" stroke-width="2.7" fill="none" stroke-linejoin="round"/></g>
<g stroke="#111" stroke-width="2.3" fill="none">
<line x1="93.5" y1="21.2" x2="226.70" y2="21.2" stroke-dasharray="5.7 3.357"/>
<line x1="226.7" y1="21.1" x2="226.7" y2="212.7" stroke-dasharray="6.3 3.7"/>
</g>
<g stroke-width="2.2" stroke-linecap="square">
<line x1="91.3" y1="14.2" x2="434.7" y2="14.2" stroke="#8c8c8c"/>
<line x1="91.3" y1="212.7" x2="434.7" y2="212.7" stroke="#989898"/>
<line x1="91.3" y1="14.2" x2="91.3" y2="212.7" stroke="#a2a2a2"/>
<line x1="434.7" y1="14.2" x2="434.7" y2="212.7" stroke="#7a7a7a"/>
</g>
<g stroke="#444" stroke-width="1.3"><line x1="177.10" y1="212.7" x2="177.10" y2="208.7"/><line x1="177.10" y1="14.2" x2="177.10" y2="18.2"/><line x1="262.90" y1="212.7" x2="262.90" y2="208.7"/><line x1="262.90" y1="14.2" x2="262.90" y2="18.2"/><line x1="348.70" y1="212.7" x2="348.70" y2="208.7"/><line x1="348.70" y1="14.2" x2="348.70" y2="18.2"/><line x1="91.3" y1="182.10" x2="95.3" y2="182.10"/><line x1="434.7" y1="182.10" x2="430.7" y2="182.10"/><line x1="91.3" y1="148.57" x2="95.3" y2="148.57"/><line x1="434.7" y1="148.57" x2="430.7" y2="148.57"/><line x1="91.3" y1="115.04" x2="95.3" y2="115.04"/><line x1="434.7" y1="115.04" x2="430.7" y2="115.04"/><line x1="91.3" y1="81.51" x2="95.3" y2="81.51"/><line x1="434.7" y1="81.51" x2="430.7" y2="81.51"/><line x1="91.3" y1="47.98" x2="95.3" y2="47.98"/><line x1="434.7" y1="47.98" x2="430.7" y2="47.98"/></g>
<line x1="142.4" y1="56.0" x2="100.39" y2="29.03" stroke="#111" stroke-width="2"/><polygon points="92.4,23.9 103.50,26.04 98.97,33.11" fill="#111"/>
<line x1="160.5" y1="197.1" x2="214.15" y2="209.55" stroke="#111" stroke-width="2"/><polygon points="223.4,211.7 212.27,213.22 214.08,205.43" fill="#111"/>
<g class="tk"><text x="88.2" y="21.45" text-anchor="end">0.5</text><text x="88.2" y="54.98" text-anchor="end">0.4</text><text x="88.2" y="88.51" text-anchor="end">0.3</text><text x="88.2" y="122.04" text-anchor="end">0.2</text><text x="88.2" y="155.57" text-anchor="end">0.1</text><text x="88.2" y="189.10" text-anchor="end">0</text><text x="91.70" y="231.6" text-anchor="middle">0</text><text x="177.50" y="231.6" text-anchor="middle">5</text><text x="263.30" y="231.6" text-anchor="middle">10</text><text x="349.10" y="231.6" text-anchor="middle">15</text><text x="434.90" y="231.6" text-anchor="middle">20</text></g>
<rect x="446.2" y="14.9" width="96.8" height="140.8" fill="#fff" stroke="#888" stroke-width="2"/>
<g class="lg"><line x1="452" y1="26.30" x2="482.5" y2="26.30" stroke="#0000ff" stroke-width="2.8"/><text transform="translate(485.1 32.00) scale(0.845 1)">Beta=0°</text><line x1="452" y1="45.82" x2="482.5" y2="45.82" stroke="#008a00" stroke-width="2.8"/><text transform="translate(485.1 51.52) scale(0.845 1)">Beta=2°</text><line x1="452" y1="65.34" x2="482.5" y2="65.34" stroke="#ff00ff" stroke-width="2.8"/><text transform="translate(485.1 71.04) scale(0.845 1)">Beta=5°</text><line x1="452" y1="84.86" x2="482.5" y2="84.86" stroke="#ff0000" stroke-width="2.8"/><text transform="translate(485.1 90.56) scale(0.845 1)">Beta=10°</text><line x1="452" y1="104.38" x2="482.5" y2="104.38" stroke="#00f0ff" stroke-width="2.9"/><text transform="translate(485.1 110.08) scale(0.845 1)">Beta=15°</text><line x1="452" y1="123.90" x2="482.5" y2="123.90" stroke="#00f000" stroke-width="3.0"/><text transform="translate(485.1 129.60) scale(0.845 1)">Beta=20°</text><line x1="452" y1="143.42" x2="482.5" y2="143.42" stroke="#ff8000" stroke-width="2.7"/><text transform="translate(485.1 149.12) scale(0.845 1)">Beta=25°</text></g>
<text transform="translate(245 263.5) scale(0.975 1)" text-anchor="middle" style="font-family:'DejaVu Serif',serif;font-size:19px;fill:#111;stroke:#111;stroke-width:0.25px">Speed ratio</text>
<text transform="translate(20.6 125.9) rotate(-90) scale(0.905 1)" text-anchor="middle" style="font-family:'Liberation Serif',serif;font-size:20px;fill:#111;stroke:#111;stroke-width:0.3px">Power coefficient Cp</text>
</g>
</svg>
</body></html>
